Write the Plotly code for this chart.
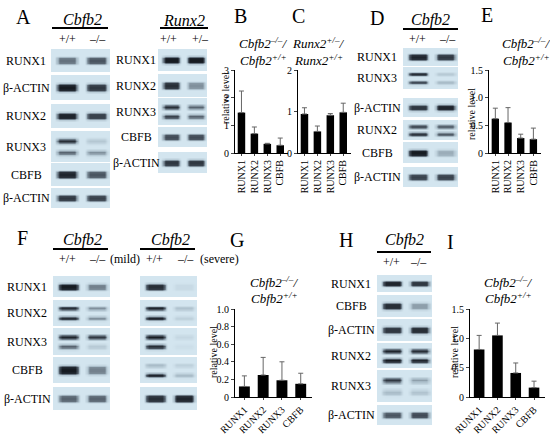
import numpy as np
import plotly.graph_objects as go

W, H = 550, 439
SERIF = "Liberation Serif"

# ---- bar chart data (relative level, mean and upper error) ----
cats = ["RUNX1", "RUNX2", "RUNX3", "CBFB"]

b_mean = [1.46, 0.70, 0.33, 0.28]
b_err = [0.78, 0.24, 0.02, 0.26]

c_mean = [0.94, 0.52, 0.91, 0.98]
c_err = [0.15, 0.13, 0.04, 0.22]

e_mean = [0.62, 0.55, 0.27, 0.25]
e_err = [0.19, 0.27, 0.07, 0.20]

g_mean = [0.12, 0.25, 0.19, 0.15]
g_err = [0.12, 0.20, 0.21, 0.12]

i_mean = [0.81, 1.05, 0.41, 0.16]
i_err = [0.24, 0.21, 0.17, 0.11]

# ---- blot band intensities (0 none .. 1 saturated), one value per band ----
a1_rows = ["RUNX1", "β-ACTIN", "RUNX2", "RUNX3", "CBFB", "β-ACTIN"]
a1_wt = [[0.55], [0.95], [0.9], [0.85, 0.6], [0.9], [0.8]]
a1_ko = [[0.65], [0.8], [0.75], [0.22, 0.45], [0.65], [0.75]]

a2_rows = ["RUNX1", "RUNX2", "RUNX3", "CBFB", "β-ACTIN"]
a2_wt = [[0.95], [0.85], [0.85, 0.75], [0.7], [0.8]]
a2_ko = [[0.95], [0.45], [0.6, 0.6], [0.7], [0.8]]

d_rows = ["RUNX1", "RUNX3", "β-ACTIN", "RUNX2", "CBFB", "β-ACTIN"]
d_wt = [[0.9], [0.85, 0.7], [0.8], [0.85, 0.9], [0.95], [0.75]]
d_ko = [[0.8], [0.2, 0.3], [0.9], [0.75, 0.7], [0.35], [0.75]]

f_rows = ["RUNX1", "RUNX2", "RUNX3", "CBFB", "β-ACTIN"]
f1_wt = [[0.95], [0.85, 0.85], [0.9, 0.6], [0.95], [0.6]]
f1_ko = [[0.5], [0.45, 0.45], [0.8, 0.2], [0.5], [0.6]]
f2_wt = [[0.85], [0.9, 0.9], [0.95, 0.85], [0.3, 0.9], [0.85]]
f2_ko = [[0.08], [0.25, 0.15], [0.1, 0.05], [0.15, 0.3], [0.9]]

h_rows = ["RUNX1", "CBFB", "β-ACTIN", "RUNX2", "RUNX3", "β-ACTIN"]
h_wt = [[0.9], [0.85], [0.8], [0.9, 0.95], [0.8, 0.3], [0.65]]
h_ko = [[0.8], [0.4], [0.85], [0.85, 0.9], [0.4, 0.25], [0.7]]

# strip placement (pixels): x span of a panel and the y span of each strip
a1_x, a1_y = (51, 110), [(49, 72), (75, 100), (104, 128), (131, 162), (163, 186), (188, 208)]
a2_x, a2_y = (158, 207), [(49, 71), (74, 97), (98, 125), (127, 147), (152, 173)]
d_x, d_y = (403, 458), [(48, 66), (67, 89), (98, 117), (120, 140), (142, 163), (167, 187)]
f1_x, f2_x = (53, 110), (140, 197)
f_y = [(276, 297), (300, 326), (328, 355), (357, 383), (387, 410)]
h_x, h_y = (377, 432), [(275, 292), (295, 317), (319, 341), (343, 368), (370, 402), (405, 425)]

blot_scale = [[0, "#d3e5ef"], [0.3, "#a9bcc8"], [0.65, "#4a5561"], [1, "#0e1218"]]

fig = go.Figure()
annots = []
shapes = []


def txt(x, y, s, size=12, **kw):
    annots.append(dict(x=x, y=y, xref="x", yref="y", text=s, showarrow=False,
                       font=dict(family=SERIF, size=size, color="black"), **kw))


def strip(x0, x1, y0, y1, wt, ko):
    nx, ny = 44, 14
    u = (np.arange(nx) + 0.5) / nx
    v = (np.arange(ny) + 0.5) / ny
    z = np.zeros((ny, nx))
    n = len(wt)
    centers = [0.5] if n == 1 else [0.32, 0.7]
    half = 0.2 if n == 1 else 0.13
    for lane_c, vals in ((0.27, wt), (0.77, ko)):
        px = np.clip((0.21 - np.abs(u - lane_c)) / 0.08, 0, 1)
        for c, a in zip(centers, vals):
            py = np.clip((half - np.abs(v - c)) / 0.1, 0, 1)
            z = np.maximum(z, a * np.outer(py, px))
    fig.add_trace(go.Heatmap(
        z=z, x0=x0 + (x1 - x0) / nx / 2, dx=(x1 - x0) / nx,
        y0=y0 + (y1 - y0) / ny / 2, dy=(y1 - y0) / ny,
        zmin=0, zmax=1, colorscale=blot_scale, showscale=False,
        zsmooth="best", hoverinfo="skip", xaxis="x", yaxis="y"))


def blot(xspan, yspans, rows, wt, ko, label_x):
    for (y0, y1), name, w, k in zip(yspans, rows, wt, ko):
        strip(xspan[0], xspan[1], y0, y1, w, k)
        if label_x is not None:
            txt(label_x, (y0 + y1) / 2, name)


def header(title, xc, yt, x0, x1, yl, geno, yg):
    txt(xc, yt, "<i>%s</i>" % title, size=16)
    shapes.append(dict(type="line", xref="x", yref="y", x0=x0, x1=x1, y0=yl, y1=yl,
                       line=dict(color="black", width=2)))
    for gx, gs in geno:
        txt(gx, yg, gs)


# ---- blot panels ----
blot(a1_x, a1_y, a1_rows, a1_wt, a1_ko, 26)
header("Cbfb2", 82, 20, 52, 108, 28, [(67, "+/+"), (97, "–/–")], 39)
blot(a2_x, a2_y, a2_rows, a2_wt, a2_ko, 136)
header("Runx2", 184, 20, 160, 208, 28, [(168, "+/+"), (200, "+/–")], 39)
blot(d_x, d_y, d_rows, d_wt, d_ko, 377)
header("Cbfb2", 430, 20, 403, 458, 29, [(417, "+/+"), (447, "–/–")], 39)
blot(f1_x, f_y, f_rows, f1_wt, f1_ko, 27)
blot(f2_x, f_y, f_rows, f2_wt, f2_ko, None)
header("Cbfb2", 82, 240, 53, 108, 249, [(67, "+/+"), (97, "–/–"), (125, "(mild)")], 259)
header("Cbfb2", 170, 240, 140, 195, 249, [(154, "+/+"), (185, "–/–"), (219, "(severe)")], 259)
blot(h_x, h_y, h_rows, h_wt, h_ko, 351)
header("Cbfb2", 404, 240, 377, 431, 252, [(391, "+/+"), (418, "–/–")], 262)

for letter, lx, ly in [("A", 23, 17), ("B", 240, 16), ("C", 298, 16), ("D", 377, 18),
                       ("E", 487, 15), ("F", 22, 238), ("G", 237, 240), ("H", 346, 240),
                       ("I", 450, 242)]:
    txt(lx, ly, letter, size=20)

# ---- bar charts ----
bars = [
    (b_mean, b_err, (235, 288), (70, 153), 3, [0, 1, 2, 3], ["0", "1", "2", "3"], -90,
     ("Cbfb2", "–/–", "Cbfb2", "+/+"), 263, (43, 60), (225, 98)),
    (c_mean, c_err, (298, 351), (70, 153), 2, [0, 1, 2], ["0", "1", "2"], -90,
     ("Runx2", "+/–", "Runx2", "+/+"), 318, (43, 60), None),
    (e_mean, e_err, (489, 541), (70, 153), 1.5, [0, 0.5, 1, 1.5], ["0", "0.5", "1.0", "1.5"], -90,
     ("Cbfb2", "–/–", "Cbfb2", "+/+"), 526, (43, 60), (471, 114)),
    (g_mean, g_err, (235, 312), (309, 397), 1, [0, 0.2, 0.4, 0.6, 0.8, 1],
     ["0", "0.2", "0.4", "0.6", "0.8", "1.0"], -45,
     ("Cbfb2", "–/–", "Cbfb2", "+/+"), 274, (282, 298), (213, 352)),
    (i_mean, i_err, (470, 545), (309, 397), 1.5, [0, 0.5, 1, 1.5], ["0", "0.5", "1.0", "1.5"], -45,
     ("Cbfb2", "–/–", "Cbfb2", "+/+"), 508, (282, 298), (454, 352)),
]

layout_axes = {}
for k, (mean, err, xs, ys, ymax, tv, tt, ang, ttl, tx, tys, ylab) in enumerate(bars, start=2):
    fig.add_trace(go.Bar(
        x=cats, y=mean, width=0.58, marker=dict(color="black", line=dict(width=0)),
        error_y=dict(type="data", array=err, arrayminus=[0] * len(err), symmetric=False,
                     color="#666666", thickness=1, width=2.5),
        xaxis="x%d" % k, yaxis="y%d" % k, hoverinfo="skip"))
    layout_axes["xaxis%d" % k] = dict(
        domain=[xs[0] / W, xs[1] / W], anchor="y%d" % k, range=[-0.5, 3.6],
        showline=True, linecolor="black", linewidth=1, ticks="outside", ticklen=2,
        tickangle=ang, tickfont=dict(family=SERIF, size=10, color="black"),
        showgrid=False, zeroline=False, automargin=False)
    layout_axes["yaxis%d" % k] = dict(
        domain=[1 - ys[1] / H, 1 - ys[0] / H], anchor="x%d" % k,
        range=[0, ymax], tickvals=tv, ticktext=tt, showline=True, linecolor="black",
        linewidth=1, ticks="outside", ticklen=3,
        tickfont=dict(family=SERIF, size=10, color="black"),
        showgrid=False, zeroline=False, automargin=False)
    txt(tx, tys[0], "<i>%s<sup>%s</sup>/</i>" % (ttl[0], ttl[1]), size=13)
    txt(tx, tys[1], "<i>%s<sup>%s</sup></i>" % (ttl[2], ttl[3]), size=13)
    if ylab is not None:
        txt(ylab[0], ylab[1], "relative level", size=10, textangle=-90)

fig.update_layout(
    width=W, height=H, autosize=False, showlegend=False,
    margin=dict(l=0, r=0, t=0, b=0, pad=0),
    paper_bgcolor="white", plot_bgcolor="rgba(0,0,0,0)",
    xaxis=dict(domain=[0, 1], range=[0, W], visible=False, automargin=False),
    yaxis=dict(domain=[0, 1], range=[H, 0], visible=False, automargin=False),
    annotations=annots, shapes=shapes, **layout_axes)

# the page body has a default 8px margin; drop it so pixels line up with the picture
fig.write_html("out.html", config={"displayModeBar": False},
               post_script="document.body.style.margin = '0px';")
